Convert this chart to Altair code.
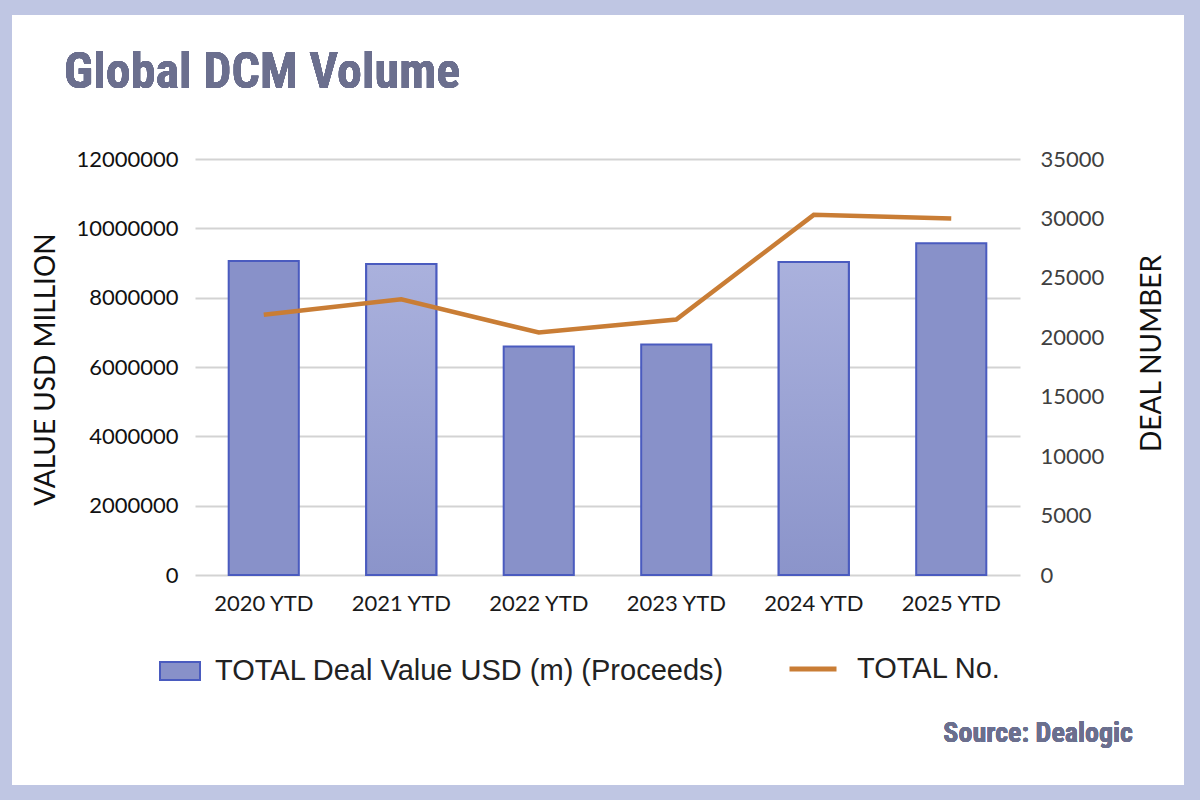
import altair as alt
import pandas as pd

# ---- data ----
years = ["2020 YTD", "2021 YTD", "2022 YTD", "2023 YTD", "2024 YTD", "2025 YTD"]
deal_value = [9060000, 8970000, 6590000, 6650000, 9030000, 9570000]
deal_count = [21900, 23200, 20400, 21500, 30300, 30000]
light_years = ["2021 YTD", "2024 YTD"]

df = pd.DataFrame({
    "year": years,
    "value": deal_value,
    "count": deal_count,
    "s1": "TOTAL Deal Value USD (m) (Proceeds)",
    "s2": "TOTAL No.",
})

W, H = 825, 416
BORDER = "#BFC6E3"
TXT = "#6B6F8E"
BAR = "#8891C9"
BAR_STROKE = "#4A5BBF"
LINE = "#C97D35"
TICK_FONT = "Lato"
COND = "Roboto Condensed, Liberation Sans Narrow, DejaVu Sans Condensed, sans-serif"

x_enc = alt.X("year:N", sort=years, title=None,
              scale=alt.Scale(paddingInner=0.49, paddingOuter=0.245),
              axis=alt.Axis(labelFont=TICK_FONT, labelFontSize=22, labelColor="#1a1a1a",
                            labelPadding=18, domain=False, ticks=False, labelAngle=0))

base = alt.Chart(df)

bars = base.mark_bar(stroke=BAR_STROKE, strokeWidth=2).encode(
    x=x_enc,
    y=alt.Y("value:Q", scale=alt.Scale(domain=[0, 12000000], nice=False),
            axis=alt.Axis(title="VALUE USD MILLION", values=list(range(0, 12000001, 2000000)),
                          format="d", labelFont=TICK_FONT, labelFontSize=22, labelColor="#111",
                          labelPadding=17, ticks=False, domain=False,
                          grid=True, gridColor="#D3D3D3", gridWidth=2,
                          titleFont=TICK_FONT, titleFontSize=28, titleFontWeight="normal",
                          titleColor="#111", titleAngle=-90, titleX=-149, titleY=210,
                          titleAlign="center", titleBaseline="middle")),
    fill=alt.Fill("s1:N", scale=alt.Scale(range=[BAR]),
                  legend=alt.Legend(title=None, orient="none", legendX=-36, legendY=491,
                                    symbolType="M-1,-0.45H1V0.45H-1Z", symbolSize=1600,
                                    symbolStrokeColor=BAR_STROKE, symbolStrokeWidth=2,
                                    symbolFillColor="#9DA4D6", symbolOpacity=1,
                                    labelFont="Liberation Sans", labelFontSize=29,
                                    labelColor="#222", labelLimit=900, labelOffset=14,
                                    padding=0)),
)

grad = alt.LinearGradient(
    gradient="linear", x1=0, y1=0, x2=0, y2=1,
    stops=[alt.GradientStop(color="#AAB1DD", offset=0),
           alt.GradientStop(color="#8B94CA", offset=1)],
)
light_bars = base.mark_bar(stroke=BAR_STROKE, strokeWidth=2, fill=grad).encode(
    x=alt.X("year:N", sort=years),
    y=alt.Y("value:Q"),
).transform_filter(alt.FieldOneOfPredicate(field="year", oneOf=light_years))

bar_layer = alt.layer(bars, light_bars)

line = base.mark_line(strokeWidth=4.5).encode(
    x=alt.X("year:N", sort=years),
    y=alt.Y("count:Q", scale=alt.Scale(domain=[0, 35000], nice=False),
            axis=alt.Axis(title="DEAL NUMBER", orient="right",
                          values=list(range(0, 35001, 5000)), format="d",
                          labelFont=TICK_FONT, labelFontSize=22, labelColor="#404040",
                          labelPadding=20, ticks=False, domain=False, grid=False,
                          titleFont=TICK_FONT, titleFontSize=28, titleFontWeight="normal",
                          titleColor="#111", titleAngle=-90, titleX=132, titleY=194,
                          titleAlign="center", titleBaseline="middle")),
    stroke=alt.Stroke("s2:N", scale=alt.Scale(range=[LINE]),
                      legend=alt.Legend(title=None, orient="none", legendX=592, legendY=484,
                                        symbolType="stroke", symbolSize=2209,
                                        symbolStrokeWidth=5,
                                        labelFont="Liberation Sans", labelFontSize=29,
                                        labelColor="#222", labelLimit=900, labelOffset=18,
                                        padding=0)),
)

# light-blue frame around the white card
frame = alt.Chart(df).mark_rect(fill=None, stroke=BORDER, strokeWidth=16).encode(
    x=alt.value(-191), x2=alt.value(997), y=alt.value(-152), y2=alt.value(634)
)

title = alt.Chart(df).mark_text(
    text="Global DCM Volume", font=COND,
    fontSize=50, fontWeight="bold", color=TXT, align="left", baseline="alphabetic",
).encode(x=alt.value(-131), y=alt.value(-71))

source = alt.Chart(df).mark_text(
    text="Source: Dealogic", font=COND,
    fontSize=28, fontWeight="bold", color=TXT, align="right", baseline="alphabetic",
).encode(x=alt.value(938), y=alt.value(583))

chart = alt.layer(bar_layer, line, frame, title, source).resolve_scale(
    y="independent", fill="independent", stroke="independent"
).properties(
    width=W, height=H,
    padding={"left": 195, "top": 159, "right": 180, "bottom": 225},
    autosize=alt.AutoSizeParams(type="none"),
    background="white",
).configure_view(stroke=None)

chart.save("out.html", embed_options={"renderer": "svg", "actions": False})
